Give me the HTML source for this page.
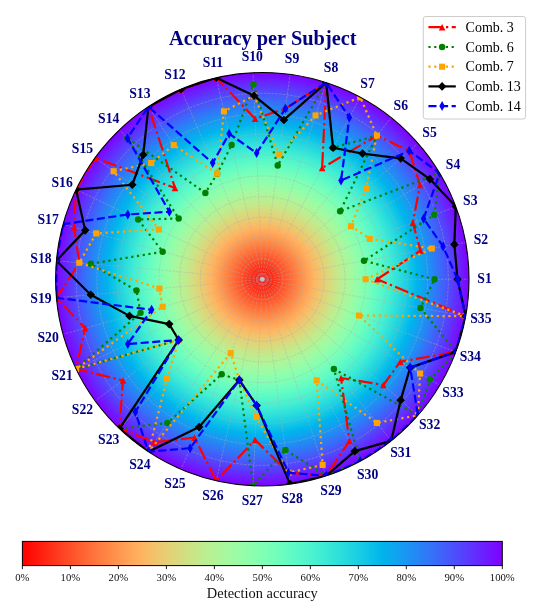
<!DOCTYPE html><html><head><meta charset="utf-8"><title>Accuracy per Subject</title>
<style>html,body{margin:0;padding:0;background:#fff}svg{display:block}text{font-family:"Liberation Serif","DejaVu Serif",serif}</style></head><body>
<svg width="550" height="605" viewBox="0 0 550 605">
<defs>
<radialGradient id="rg" gradientUnits="userSpaceOnUse" cx="262.3" cy="279.25" r="206.7"><stop offset="0.0000" stop-color="#ff0000"/><stop offset="0.0250" stop-color="#ff140a"/><stop offset="0.0500" stop-color="#ff2814"/><stop offset="0.0750" stop-color="#ff3c1e"/><stop offset="0.1000" stop-color="#ff4f28"/><stop offset="0.1250" stop-color="#ff6232"/><stop offset="0.1500" stop-color="#ff743c"/><stop offset="0.1750" stop-color="#ff8545"/><stop offset="0.2000" stop-color="#ff964f"/><stop offset="0.2250" stop-color="#ffa658"/><stop offset="0.2500" stop-color="#ffb462"/><stop offset="0.2750" stop-color="#f2c26b"/><stop offset="0.3000" stop-color="#e6ce74"/><stop offset="0.3250" stop-color="#d9d97d"/><stop offset="0.3500" stop-color="#cce385"/><stop offset="0.3750" stop-color="#bfec8e"/><stop offset="0.4000" stop-color="#b2f396"/><stop offset="0.4250" stop-color="#a6f89e"/><stop offset="0.4500" stop-color="#99fca6"/><stop offset="0.4750" stop-color="#8cfead"/><stop offset="0.5000" stop-color="#80ffb4"/><stop offset="0.5250" stop-color="#73febb"/><stop offset="0.5500" stop-color="#66fcc2"/><stop offset="0.5750" stop-color="#59f8c8"/><stop offset="0.6000" stop-color="#4df3ce"/><stop offset="0.6250" stop-color="#40ecd4"/><stop offset="0.6500" stop-color="#33e3d9"/><stop offset="0.6750" stop-color="#26d9de"/><stop offset="0.7000" stop-color="#1acee3"/><stop offset="0.7250" stop-color="#0dc2e8"/><stop offset="0.7500" stop-color="#00b4ec"/><stop offset="0.7750" stop-color="#0da6ef"/><stop offset="0.8000" stop-color="#1a96f3"/><stop offset="0.8250" stop-color="#2685f5"/><stop offset="0.8500" stop-color="#3374f8"/><stop offset="0.8750" stop-color="#4062fa"/><stop offset="0.9000" stop-color="#4d4ffc"/><stop offset="0.9250" stop-color="#593cfd"/><stop offset="0.9500" stop-color="#6628fe"/><stop offset="0.9750" stop-color="#7314ff"/><stop offset="1.0000" stop-color="#8000ff"/></radialGradient>
<linearGradient id="lg" x1="0" y1="0" x2="1" y2="0"><stop offset="0.0000" stop-color="#ff0000"/><stop offset="0.0250" stop-color="#ff140a"/><stop offset="0.0500" stop-color="#ff2814"/><stop offset="0.0750" stop-color="#ff3c1e"/><stop offset="0.1000" stop-color="#ff4f28"/><stop offset="0.1250" stop-color="#ff6232"/><stop offset="0.1500" stop-color="#ff743c"/><stop offset="0.1750" stop-color="#ff8545"/><stop offset="0.2000" stop-color="#ff964f"/><stop offset="0.2250" stop-color="#ffa658"/><stop offset="0.2500" stop-color="#ffb462"/><stop offset="0.2750" stop-color="#f2c26b"/><stop offset="0.3000" stop-color="#e6ce74"/><stop offset="0.3250" stop-color="#d9d97d"/><stop offset="0.3500" stop-color="#cce385"/><stop offset="0.3750" stop-color="#bfec8e"/><stop offset="0.4000" stop-color="#b2f396"/><stop offset="0.4250" stop-color="#a6f89e"/><stop offset="0.4500" stop-color="#99fca6"/><stop offset="0.4750" stop-color="#8cfead"/><stop offset="0.5000" stop-color="#80ffb4"/><stop offset="0.5250" stop-color="#73febb"/><stop offset="0.5500" stop-color="#66fcc2"/><stop offset="0.5750" stop-color="#59f8c8"/><stop offset="0.6000" stop-color="#4df3ce"/><stop offset="0.6250" stop-color="#40ecd4"/><stop offset="0.6500" stop-color="#33e3d9"/><stop offset="0.6750" stop-color="#26d9de"/><stop offset="0.7000" stop-color="#1acee3"/><stop offset="0.7250" stop-color="#0dc2e8"/><stop offset="0.7500" stop-color="#00b4ec"/><stop offset="0.7750" stop-color="#0da6ef"/><stop offset="0.8000" stop-color="#1a96f3"/><stop offset="0.8250" stop-color="#2685f5"/><stop offset="0.8500" stop-color="#3374f8"/><stop offset="0.8750" stop-color="#4062fa"/><stop offset="0.9000" stop-color="#4d4ffc"/><stop offset="0.9250" stop-color="#593cfd"/><stop offset="0.9500" stop-color="#6628fe"/><stop offset="0.9750" stop-color="#7314ff"/><stop offset="1.0000" stop-color="#8000ff"/></linearGradient>
<clipPath id="cp"><circle cx="262.3" cy="279.25" r="206.7"/></clipPath>
</defs>
<rect width="550" height="605" fill="#fff"/>
<circle cx="262.3" cy="279.25" r="206.7" fill="url(#rg)"/>
<g clip-path="url(#cp)" fill="none" stroke="#b0b0b0" stroke-opacity="0.6" stroke-width="0.7" stroke-dasharray="2.6 1.2"><line x1="262.3" y1="279.25" x2="469.00" y2="279.25"/><line x1="262.3" y1="279.25" x2="465.68" y2="242.34"/><line x1="262.3" y1="279.25" x2="455.82" y2="206.62"/><line x1="262.3" y1="279.25" x2="439.74" y2="173.23"/><line x1="262.3" y1="279.25" x2="417.96" y2="143.25"/><line x1="262.3" y1="279.25" x2="391.18" y2="117.65"/><line x1="262.3" y1="279.25" x2="360.25" y2="97.23"/><line x1="262.3" y1="279.25" x2="326.17" y2="82.67"/><line x1="262.3" y1="279.25" x2="290.05" y2="74.42"/><line x1="262.3" y1="279.25" x2="253.03" y2="72.76"/><line x1="262.3" y1="279.25" x2="216.30" y2="77.73"/><line x1="262.3" y1="279.25" x2="181.06" y2="89.18"/><line x1="262.3" y1="279.25" x2="148.43" y2="106.74"/><line x1="262.3" y1="279.25" x2="119.46" y2="129.85"/><line x1="262.3" y1="279.25" x2="95.08" y2="157.75"/><line x1="262.3" y1="279.25" x2="76.07" y2="189.57"/><line x1="262.3" y1="279.25" x2="63.05" y2="224.26"/><line x1="262.3" y1="279.25" x2="56.43" y2="260.72"/><line x1="262.3" y1="279.25" x2="56.43" y2="297.78"/><line x1="262.3" y1="279.25" x2="63.05" y2="334.24"/><line x1="262.3" y1="279.25" x2="76.07" y2="368.93"/><line x1="262.3" y1="279.25" x2="95.08" y2="400.75"/><line x1="262.3" y1="279.25" x2="119.46" y2="428.65"/><line x1="262.3" y1="279.25" x2="148.43" y2="451.76"/><line x1="262.3" y1="279.25" x2="181.06" y2="469.32"/><line x1="262.3" y1="279.25" x2="216.30" y2="480.77"/><line x1="262.3" y1="279.25" x2="253.03" y2="485.74"/><line x1="262.3" y1="279.25" x2="290.05" y2="484.08"/><line x1="262.3" y1="279.25" x2="326.17" y2="475.83"/><line x1="262.3" y1="279.25" x2="360.25" y2="461.27"/><line x1="262.3" y1="279.25" x2="391.18" y2="440.85"/><line x1="262.3" y1="279.25" x2="417.96" y2="415.25"/><line x1="262.3" y1="279.25" x2="439.74" y2="385.27"/><line x1="262.3" y1="279.25" x2="455.82" y2="351.88"/><line x1="262.3" y1="279.25" x2="465.68" y2="316.16"/><circle cx="262.3" cy="279.25" r="20.67"/><circle cx="262.3" cy="279.25" r="41.34"/><circle cx="262.3" cy="279.25" r="62.01"/><circle cx="262.3" cy="279.25" r="82.68"/><circle cx="262.3" cy="279.25" r="103.35"/><circle cx="262.3" cy="279.25" r="124.02"/><circle cx="262.3" cy="279.25" r="144.69"/><circle cx="262.3" cy="279.25" r="165.36"/><circle cx="262.3" cy="279.25" r="186.03"/><circle cx="262.3" cy="279.25" r="3"/><circle cx="262.3" cy="279.25" r="6.2"/></g>
<circle cx="262.3" cy="279.25" r="2.2" fill="#c2c2cc"/>
<g clip-path="url(#cp)">
<path d="M377.13 279.25L420.48 250.54L412.82 222.76L420.03 185.01L409.31 150.81L376.86 135.60L322.16 168.02L326.17 82.67L285.42 108.56L255.09 118.65L216.30 77.73L181.06 89.18L148.43 106.74L175.01 187.95L95.08 157.75L76.07 189.57L74.12 227.32L79.31 262.78L56.43 297.78L85.19 328.13L76.07 368.93L122.95 380.50L119.46 428.65L154.76 442.17L194.60 437.64L216.30 480.77L255.09 439.85L288.50 472.70L326.17 475.83L349.37 441.04L341.06 378.01L383.37 385.02L400.31 361.71L455.82 351.88L465.68 316.16Z" fill="none" stroke="#ff0000" stroke-width="2.2" stroke-linejoin="round" stroke-dasharray="14.1 3.5 2.2 3.5"/>
<path d="M377.13 275.95L380.43 282.55L373.83 282.55Z" fill="#ff0000"/><path d="M420.48 247.24L423.78 253.84L417.18 253.84Z" fill="#ff0000"/><path d="M412.82 219.46L416.12 226.06L409.52 226.06Z" fill="#ff0000"/><path d="M420.03 181.71L423.33 188.31L416.73 188.31Z" fill="#ff0000"/><path d="M409.31 147.51L412.61 154.11L406.01 154.11Z" fill="#ff0000"/><path d="M376.86 132.30L380.16 138.90L373.56 138.90Z" fill="#ff0000"/><path d="M322.16 164.72L325.46 171.32L318.86 171.32Z" fill="#ff0000"/><path d="M326.17 79.37L329.47 85.97L322.87 85.97Z" fill="#ff0000"/><path d="M285.42 105.26L288.72 111.86L282.12 111.86Z" fill="#ff0000"/><path d="M255.09 115.35L258.39 121.95L251.79 121.95Z" fill="#ff0000"/><path d="M216.30 74.43L219.60 81.03L213.00 81.03Z" fill="#ff0000"/><path d="M181.06 85.88L184.36 92.48L177.76 92.48Z" fill="#ff0000"/><path d="M148.43 103.44L151.73 110.04L145.13 110.04Z" fill="#ff0000"/><path d="M175.01 184.65L178.31 191.25L171.71 191.25Z" fill="#ff0000"/><path d="M95.08 154.45L98.38 161.05L91.78 161.05Z" fill="#ff0000"/><path d="M76.07 186.27L79.37 192.87L72.77 192.87Z" fill="#ff0000"/><path d="M74.12 224.02L77.42 230.62L70.82 230.62Z" fill="#ff0000"/><path d="M79.31 259.48L82.61 266.08L76.01 266.08Z" fill="#ff0000"/><path d="M56.43 294.48L59.73 301.08L53.13 301.08Z" fill="#ff0000"/><path d="M85.19 324.83L88.49 331.43L81.89 331.43Z" fill="#ff0000"/><path d="M76.07 365.63L79.37 372.23L72.77 372.23Z" fill="#ff0000"/><path d="M122.95 377.20L126.25 383.80L119.65 383.80Z" fill="#ff0000"/><path d="M119.46 425.35L122.76 431.95L116.16 431.95Z" fill="#ff0000"/><path d="M154.76 438.87L158.06 445.47L151.46 445.47Z" fill="#ff0000"/><path d="M194.60 434.34L197.90 440.94L191.30 440.94Z" fill="#ff0000"/><path d="M216.30 477.47L219.60 484.07L213.00 484.07Z" fill="#ff0000"/><path d="M255.09 436.55L258.39 443.15L251.79 443.15Z" fill="#ff0000"/><path d="M288.50 469.40L291.80 476.00L285.20 476.00Z" fill="#ff0000"/><path d="M326.17 472.53L329.47 479.13L322.87 479.13Z" fill="#ff0000"/><path d="M349.37 437.74L352.67 444.34L346.07 444.34Z" fill="#ff0000"/><path d="M341.06 374.71L344.36 381.31L337.76 381.31Z" fill="#ff0000"/><path d="M383.37 381.72L386.67 388.32L380.07 388.32Z" fill="#ff0000"/><path d="M400.31 358.41L403.61 365.01L397.01 365.01Z" fill="#ff0000"/><path d="M455.82 348.58L459.12 355.18L452.52 355.18Z" fill="#ff0000"/><path d="M465.68 312.86L468.98 319.46L462.38 319.46Z" fill="#ff0000"/>
<path d="M434.55 279.25L363.99 260.80L434.32 214.69L439.74 173.23L340.13 211.25L376.86 135.60L333.04 147.79L326.17 82.67L277.71 165.46L253.54 84.23L231.64 144.90L217.17 173.66L205.36 193.00L127.39 138.15L178.69 218.50L138.15 219.46L162.67 251.76L90.74 263.81L136.49 290.57L140.54 312.85L76.07 368.93L178.69 340.00L119.46 428.65L167.41 423.01L221.68 374.28L239.30 380.01L253.03 485.74L285.42 449.94L326.17 475.83L360.25 461.27L333.90 369.03L417.96 415.25L429.88 379.38L455.82 351.88L420.48 307.96Z" fill="none" stroke="#008000" stroke-width="2.2" stroke-linejoin="round" stroke-dasharray="2.2 3.6"/>
<circle cx="434.55" cy="279.25" r="3.2" fill="#008000"/><circle cx="363.99" cy="260.80" r="3.2" fill="#008000"/><circle cx="434.32" cy="214.69" r="3.2" fill="#008000"/><circle cx="439.74" cy="173.23" r="3.2" fill="#008000"/><circle cx="340.13" cy="211.25" r="3.2" fill="#008000"/><circle cx="376.86" cy="135.60" r="3.2" fill="#008000"/><circle cx="333.04" cy="147.79" r="3.2" fill="#008000"/><circle cx="326.17" cy="82.67" r="3.2" fill="#008000"/><circle cx="277.71" cy="165.46" r="3.2" fill="#008000"/><circle cx="253.54" cy="84.23" r="3.2" fill="#008000"/><circle cx="231.64" cy="144.90" r="3.2" fill="#008000"/><circle cx="217.17" cy="173.66" r="3.2" fill="#008000"/><circle cx="205.36" cy="193.00" r="3.2" fill="#008000"/><circle cx="127.39" cy="138.15" r="3.2" fill="#008000"/><circle cx="178.69" cy="218.50" r="3.2" fill="#008000"/><circle cx="138.15" cy="219.46" r="3.2" fill="#008000"/><circle cx="162.67" cy="251.76" r="3.2" fill="#008000"/><circle cx="90.74" cy="263.81" r="3.2" fill="#008000"/><circle cx="136.49" cy="290.57" r="3.2" fill="#008000"/><circle cx="140.54" cy="312.85" r="3.2" fill="#008000"/><circle cx="76.07" cy="368.93" r="3.2" fill="#008000"/><circle cx="178.69" cy="340.00" r="3.2" fill="#008000"/><circle cx="119.46" cy="428.65" r="3.2" fill="#008000"/><circle cx="167.41" cy="423.01" r="3.2" fill="#008000"/><circle cx="221.68" cy="374.28" r="3.2" fill="#008000"/><circle cx="239.30" cy="380.01" r="3.2" fill="#008000"/><circle cx="253.03" cy="485.74" r="3.2" fill="#008000"/><circle cx="285.42" cy="449.94" r="3.2" fill="#008000"/><circle cx="326.17" cy="475.83" r="3.2" fill="#008000"/><circle cx="360.25" cy="461.27" r="3.2" fill="#008000"/><circle cx="333.90" cy="369.03" r="3.2" fill="#008000"/><circle cx="417.96" cy="415.25" r="3.2" fill="#008000"/><circle cx="429.88" cy="379.38" r="3.2" fill="#008000"/><circle cx="455.82" cy="351.88" r="3.2" fill="#008000"/><circle cx="420.48" cy="307.96" r="3.2" fill="#008000"/>
<path d="M365.65 279.25L431.78 248.49L369.81 238.90L351.02 226.24L366.07 188.59L376.86 135.60L360.25 97.23L315.53 115.43L279.26 154.08L254.06 95.70L223.97 111.32L217.17 173.66L173.73 145.08L151.20 163.05L113.66 171.25L158.84 229.43L96.26 233.43L79.31 262.78L159.37 288.51L162.67 306.74L76.07 368.93L178.69 340.00L167.07 378.85L148.43 451.76L230.71 353.16L239.30 380.01L256.12 416.91L288.50 472.70L322.63 464.91L316.72 380.37L376.86 422.90L417.96 415.25L420.03 373.49L359.06 315.56L465.68 316.16Z" fill="none" stroke="#ffa500" stroke-width="2.2" stroke-linejoin="round" stroke-dasharray="2.2 3.6"/>
<rect x="362.60" y="276.20" width="6.1" height="6.1" fill="#ffa500"/><rect x="428.73" y="245.44" width="6.1" height="6.1" fill="#ffa500"/><rect x="366.76" y="235.85" width="6.1" height="6.1" fill="#ffa500"/><rect x="347.97" y="223.19" width="6.1" height="6.1" fill="#ffa500"/><rect x="363.02" y="185.54" width="6.1" height="6.1" fill="#ffa500"/><rect x="373.81" y="132.55" width="6.1" height="6.1" fill="#ffa500"/><rect x="357.20" y="94.18" width="6.1" height="6.1" fill="#ffa500"/><rect x="312.48" y="112.38" width="6.1" height="6.1" fill="#ffa500"/><rect x="276.21" y="151.03" width="6.1" height="6.1" fill="#ffa500"/><rect x="251.01" y="92.65" width="6.1" height="6.1" fill="#ffa500"/><rect x="220.92" y="108.27" width="6.1" height="6.1" fill="#ffa500"/><rect x="214.12" y="170.61" width="6.1" height="6.1" fill="#ffa500"/><rect x="170.68" y="142.03" width="6.1" height="6.1" fill="#ffa500"/><rect x="148.15" y="160.00" width="6.1" height="6.1" fill="#ffa500"/><rect x="110.61" y="168.20" width="6.1" height="6.1" fill="#ffa500"/><rect x="155.79" y="226.38" width="6.1" height="6.1" fill="#ffa500"/><rect x="93.21" y="230.38" width="6.1" height="6.1" fill="#ffa500"/><rect x="76.26" y="259.73" width="6.1" height="6.1" fill="#ffa500"/><rect x="156.32" y="285.46" width="6.1" height="6.1" fill="#ffa500"/><rect x="159.62" y="303.69" width="6.1" height="6.1" fill="#ffa500"/><rect x="73.02" y="365.88" width="6.1" height="6.1" fill="#ffa500"/><rect x="175.64" y="336.95" width="6.1" height="6.1" fill="#ffa500"/><rect x="164.02" y="375.80" width="6.1" height="6.1" fill="#ffa500"/><rect x="145.38" y="448.71" width="6.1" height="6.1" fill="#ffa500"/><rect x="227.66" y="350.11" width="6.1" height="6.1" fill="#ffa500"/><rect x="236.25" y="376.96" width="6.1" height="6.1" fill="#ffa500"/><rect x="253.07" y="413.86" width="6.1" height="6.1" fill="#ffa500"/><rect x="285.45" y="469.65" width="6.1" height="6.1" fill="#ffa500"/><rect x="319.58" y="461.86" width="6.1" height="6.1" fill="#ffa500"/><rect x="313.67" y="377.32" width="6.1" height="6.1" fill="#ffa500"/><rect x="373.81" y="419.85" width="6.1" height="6.1" fill="#ffa500"/><rect x="414.91" y="412.20" width="6.1" height="6.1" fill="#ffa500"/><rect x="416.98" y="370.44" width="6.1" height="6.1" fill="#ffa500"/><rect x="356.01" y="312.51" width="6.1" height="6.1" fill="#ffa500"/><rect x="462.63" y="313.11" width="6.1" height="6.1" fill="#ffa500"/>
<path d="M457.52 279.25L454.38 244.39L455.82 206.62L429.88 179.12L400.66 158.36L362.54 153.56L333.04 147.79L326.17 82.67L283.88 119.94L254.06 95.70L216.30 77.73L181.06 89.18L148.43 106.74L143.26 154.75L132.24 184.75L76.07 189.57L85.19 230.37L56.43 260.72L90.74 294.69L129.47 315.91L169.18 324.09L178.69 340.00L119.46 428.65L148.43 451.76L199.11 427.08L239.30 380.01L256.63 405.44L290.05 484.08L326.17 475.83L354.81 451.16L391.18 440.85L400.66 400.14L410.17 367.60L455.82 351.88L465.68 316.16Z" fill="none" stroke="#000000" stroke-width="2.2" stroke-linejoin="round"/>
<path d="M457.52 274.95L461.82 279.25L457.52 283.55L453.22 279.25Z" fill="#000000"/><path d="M454.38 240.09L458.68 244.39L454.38 248.69L450.08 244.39Z" fill="#000000"/><path d="M455.82 202.32L460.12 206.62L455.82 210.92L451.52 206.62Z" fill="#000000"/><path d="M429.88 174.82L434.18 179.12L429.88 183.42L425.58 179.12Z" fill="#000000"/><path d="M400.66 154.06L404.96 158.36L400.66 162.66L396.36 158.36Z" fill="#000000"/><path d="M362.54 149.26L366.84 153.56L362.54 157.86L358.24 153.56Z" fill="#000000"/><path d="M333.04 143.49L337.34 147.79L333.04 152.09L328.74 147.79Z" fill="#000000"/><path d="M326.17 78.37L330.47 82.67L326.17 86.97L321.87 82.67Z" fill="#000000"/><path d="M283.88 115.64L288.18 119.94L283.88 124.24L279.58 119.94Z" fill="#000000"/><path d="M254.06 91.40L258.36 95.70L254.06 100.00L249.76 95.70Z" fill="#000000"/><path d="M216.30 73.43L220.60 77.73L216.30 82.03L212.00 77.73Z" fill="#000000"/><path d="M181.06 84.88L185.36 89.18L181.06 93.48L176.76 89.18Z" fill="#000000"/><path d="M148.43 102.44L152.73 106.74L148.43 111.04L144.13 106.74Z" fill="#000000"/><path d="M143.26 150.45L147.56 154.75L143.26 159.05L138.96 154.75Z" fill="#000000"/><path d="M132.24 180.45L136.54 184.75L132.24 189.05L127.94 184.75Z" fill="#000000"/><path d="M76.07 185.27L80.37 189.57L76.07 193.87L71.77 189.57Z" fill="#000000"/><path d="M85.19 226.07L89.49 230.37L85.19 234.67L80.89 230.37Z" fill="#000000"/><path d="M56.43 256.42L60.73 260.72L56.43 265.02L52.13 260.72Z" fill="#000000"/><path d="M90.74 290.39L95.04 294.69L90.74 298.99L86.44 294.69Z" fill="#000000"/><path d="M129.47 311.61L133.77 315.91L129.47 320.21L125.17 315.91Z" fill="#000000"/><path d="M169.18 319.79L173.48 324.09L169.18 328.39L164.88 324.09Z" fill="#000000"/><path d="M178.69 335.70L182.99 340.00L178.69 344.30L174.39 340.00Z" fill="#000000"/><path d="M119.46 424.35L123.76 428.65L119.46 432.95L115.16 428.65Z" fill="#000000"/><path d="M148.43 447.46L152.73 451.76L148.43 456.06L144.13 451.76Z" fill="#000000"/><path d="M199.11 422.78L203.41 427.08L199.11 431.38L194.81 427.08Z" fill="#000000"/><path d="M239.30 375.71L243.60 380.01L239.30 384.31L235.00 380.01Z" fill="#000000"/><path d="M256.63 401.14L260.93 405.44L256.63 409.74L252.33 405.44Z" fill="#000000"/><path d="M290.05 479.78L294.35 484.08L290.05 488.38L285.75 484.08Z" fill="#000000"/><path d="M326.17 471.53L330.47 475.83L326.17 480.13L321.87 475.83Z" fill="#000000"/><path d="M354.81 446.86L359.11 451.16L354.81 455.46L350.51 451.16Z" fill="#000000"/><path d="M391.18 436.55L395.48 440.85L391.18 445.15L386.88 440.85Z" fill="#000000"/><path d="M400.66 395.84L404.96 400.14L400.66 404.44L396.36 400.14Z" fill="#000000"/><path d="M410.17 363.30L414.47 367.60L410.17 371.90L405.87 367.60Z" fill="#000000"/><path d="M455.82 347.58L460.12 351.88L455.82 356.18L451.52 351.88Z" fill="#000000"/><path d="M465.68 311.86L469.98 316.16L465.68 320.46L461.38 316.16Z" fill="#000000"/>
<path d="M457.52 279.25L443.08 246.44L423.57 218.73L439.74 173.23L409.31 150.81L341.06 180.49L349.37 117.46L326.17 82.67L285.42 108.56L256.63 153.06L229.08 133.71L212.65 163.10L148.43 106.74L127.39 138.15L169.40 211.75L127.80 214.48L63.05 224.26L56.43 260.72L56.43 297.78L151.60 309.80L127.80 344.02L178.69 340.00L135.33 412.05L148.43 451.76L190.09 448.20L239.30 380.01L256.63 405.44L288.50 472.70L326.17 475.83L360.25 461.27L391.18 440.85L417.96 415.25L410.17 367.60L455.82 351.88L465.68 316.16Z" fill="none" stroke="#0000ff" stroke-width="2.2" stroke-linejoin="round" stroke-dasharray="8.1 3.5"/>
<path d="M457.52 274.25L460.32 279.25L457.52 284.25L454.72 279.25Z" fill="#0000ff"/><path d="M443.08 241.44L445.88 246.44L443.08 251.44L440.28 246.44Z" fill="#0000ff"/><path d="M423.57 213.73L426.37 218.73L423.57 223.73L420.77 218.73Z" fill="#0000ff"/><path d="M439.74 168.23L442.54 173.23L439.74 178.23L436.94 173.23Z" fill="#0000ff"/><path d="M409.31 145.81L412.11 150.81L409.31 155.81L406.51 150.81Z" fill="#0000ff"/><path d="M341.06 175.49L343.86 180.49L341.06 185.49L338.26 180.49Z" fill="#0000ff"/><path d="M349.37 112.46L352.17 117.46L349.37 122.46L346.57 117.46Z" fill="#0000ff"/><path d="M326.17 77.67L328.97 82.67L326.17 87.67L323.37 82.67Z" fill="#0000ff"/><path d="M285.42 103.56L288.22 108.56L285.42 113.56L282.62 108.56Z" fill="#0000ff"/><path d="M256.63 148.06L259.43 153.06L256.63 158.06L253.83 153.06Z" fill="#0000ff"/><path d="M229.08 128.71L231.88 133.71L229.08 138.71L226.28 133.71Z" fill="#0000ff"/><path d="M212.65 158.10L215.45 163.10L212.65 168.10L209.85 163.10Z" fill="#0000ff"/><path d="M148.43 101.74L151.23 106.74L148.43 111.74L145.63 106.74Z" fill="#0000ff"/><path d="M127.39 133.15L130.19 138.15L127.39 143.15L124.59 138.15Z" fill="#0000ff"/><path d="M169.40 206.75L172.20 211.75L169.40 216.75L166.60 211.75Z" fill="#0000ff"/><path d="M127.80 209.48L130.60 214.48L127.80 219.48L125.00 214.48Z" fill="#0000ff"/><path d="M63.05 219.26L65.85 224.26L63.05 229.26L60.25 224.26Z" fill="#0000ff"/><path d="M56.43 255.72L59.23 260.72L56.43 265.72L53.63 260.72Z" fill="#0000ff"/><path d="M56.43 292.78L59.23 297.78L56.43 302.78L53.63 297.78Z" fill="#0000ff"/><path d="M151.60 304.80L154.40 309.80L151.60 314.80L148.80 309.80Z" fill="#0000ff"/><path d="M127.80 339.02L130.60 344.02L127.80 349.02L125.00 344.02Z" fill="#0000ff"/><path d="M178.69 335.00L181.49 340.00L178.69 345.00L175.89 340.00Z" fill="#0000ff"/><path d="M135.33 407.05L138.13 412.05L135.33 417.05L132.53 412.05Z" fill="#0000ff"/><path d="M148.43 446.76L151.23 451.76L148.43 456.76L145.63 451.76Z" fill="#0000ff"/><path d="M190.09 443.20L192.89 448.20L190.09 453.20L187.29 448.20Z" fill="#0000ff"/><path d="M239.30 375.01L242.10 380.01L239.30 385.01L236.50 380.01Z" fill="#0000ff"/><path d="M256.63 400.44L259.43 405.44L256.63 410.44L253.83 405.44Z" fill="#0000ff"/><path d="M288.50 467.70L291.30 472.70L288.50 477.70L285.70 472.70Z" fill="#0000ff"/><path d="M326.17 470.83L328.97 475.83L326.17 480.83L323.37 475.83Z" fill="#0000ff"/><path d="M360.25 456.27L363.05 461.27L360.25 466.27L357.45 461.27Z" fill="#0000ff"/><path d="M391.18 435.85L393.98 440.85L391.18 445.85L388.38 440.85Z" fill="#0000ff"/><path d="M417.96 410.25L420.76 415.25L417.96 420.25L415.16 415.25Z" fill="#0000ff"/><path d="M410.17 362.60L412.97 367.60L410.17 372.60L407.37 367.60Z" fill="#0000ff"/><path d="M455.82 346.88L458.62 351.88L455.82 356.88L453.02 351.88Z" fill="#0000ff"/><path d="M465.68 311.16L468.48 316.16L465.68 321.16L462.88 316.16Z" fill="#0000ff"/>
</g>
<circle cx="262.3" cy="279.25" r="206.7" fill="none" stroke="#000" stroke-width="1.1"/>
<g font-size="13.7" font-weight="bold" fill="#000080" text-anchor="middle"><text x="484.5" y="283.2">S1</text><text x="480.9" y="243.6">S2</text><text x="470.3" y="205.2">S3</text><text x="453.0" y="169.3">S4</text><text x="429.6" y="137.1">S5</text><text x="400.8" y="109.5">S6</text><text x="367.6" y="87.6">S7</text><text x="331.0" y="71.9">S8</text><text x="292.1" y="63.1">S9</text><text x="252.3" y="61.3">S10</text><text x="212.9" y="66.6">S11</text><text x="175.0" y="78.9">S12</text><text x="139.9" y="97.8">S13</text><text x="108.7" y="122.6">S14</text><text x="82.5" y="152.6">S15</text><text x="62.1" y="186.8">S16</text><text x="48.1" y="224.1">S17</text><text x="41.0" y="263.3">S18</text><text x="41.0" y="303.2">S19</text><text x="48.1" y="342.4">S20</text><text x="62.1" y="379.7">S21</text><text x="82.5" y="413.9">S22</text><text x="108.7" y="443.9">S23</text><text x="139.9" y="468.7">S24</text><text x="175.0" y="487.6">S25</text><text x="212.9" y="499.9">S26</text><text x="252.3" y="505.2">S27</text><text x="292.1" y="503.4">S28</text><text x="331.0" y="494.6">S29</text><text x="367.6" y="478.9">S30</text><text x="400.8" y="457.0">S31</text><text x="429.6" y="429.4">S32</text><text x="453.0" y="397.2">S33</text><text x="470.3" y="361.3">S34</text><text x="480.9" y="322.9">S35</text></g>
<text x="262.8" y="45.2" font-size="20.5" font-weight="bold" fill="#000080" text-anchor="middle" textLength="187.5" lengthAdjust="spacingAndGlyphs">Accuracy per Subject</text>
<rect x="423.3" y="16.5" width="102.3" height="102.5" rx="2.5" fill="#fff" fill-opacity="0.8" stroke="#cccccc" stroke-width="1"/>
<path d="M428.4 27.2L455.8 27.2" stroke="#ff0000" stroke-width="2.2" fill="none" stroke-dasharray="14.1 3.5 2.2 3.5"/>
<path d="M442.10 23.90L445.40 30.50L438.80 30.50Z" fill="#ff0000"/>
<text x="465.6" y="31.7" font-size="14" fill="#000">Comb. 3</text>
<path d="M428.4 47.0L455.8 47.0" stroke="#008000" stroke-width="2.2" fill="none" stroke-dasharray="2.2 3.6"/>
<circle cx="442.10" cy="47.00" r="3.2" fill="#008000"/>
<text x="465.6" y="51.5" font-size="14" fill="#000">Comb. 6</text>
<path d="M428.4 66.7L455.8 66.7" stroke="#ffa500" stroke-width="2.2" fill="none" stroke-dasharray="2.2 3.6"/>
<rect x="439.05" y="63.65" width="6.1" height="6.1" fill="#ffa500"/>
<text x="465.6" y="71.2" font-size="14" fill="#000">Comb. 7</text>
<path d="M428.4 86.4L455.8 86.4" stroke="#000000" stroke-width="2.2" fill="none"/>
<path d="M442.10 82.10L446.40 86.40L442.10 90.70L437.80 86.40Z" fill="#000000"/>
<text x="465.6" y="90.9" font-size="14" fill="#000">Comb. 13</text>
<path d="M428.4 106.1L455.8 106.1" stroke="#0000ff" stroke-width="2.2" fill="none" stroke-dasharray="8.1 3.5"/>
<path d="M442.10 101.10L444.90 106.10L442.10 111.10L439.30 106.10Z" fill="#0000ff"/>
<text x="465.6" y="110.6" font-size="14" fill="#000">Comb. 14</text>
<rect x="22.4" y="541.4" width="479.9" height="24.2" fill="url(#lg)" stroke="#000" stroke-width="1"/>
<line x1="22.40" y1="565.6" x2="22.40" y2="569.2" stroke="#000" stroke-width="0.9"/><text x="22.40" y="581" font-size="10.7" fill="#111" text-anchor="middle">0%</text><line x1="70.39" y1="565.6" x2="70.39" y2="569.2" stroke="#000" stroke-width="0.9"/><text x="70.39" y="581" font-size="10.7" fill="#111" text-anchor="middle">10%</text><line x1="118.38" y1="565.6" x2="118.38" y2="569.2" stroke="#000" stroke-width="0.9"/><text x="118.38" y="581" font-size="10.7" fill="#111" text-anchor="middle">20%</text><line x1="166.37" y1="565.6" x2="166.37" y2="569.2" stroke="#000" stroke-width="0.9"/><text x="166.37" y="581" font-size="10.7" fill="#111" text-anchor="middle">30%</text><line x1="214.36" y1="565.6" x2="214.36" y2="569.2" stroke="#000" stroke-width="0.9"/><text x="214.36" y="581" font-size="10.7" fill="#111" text-anchor="middle">40%</text><line x1="262.35" y1="565.6" x2="262.35" y2="569.2" stroke="#000" stroke-width="0.9"/><text x="262.35" y="581" font-size="10.7" fill="#111" text-anchor="middle">50%</text><line x1="310.34" y1="565.6" x2="310.34" y2="569.2" stroke="#000" stroke-width="0.9"/><text x="310.34" y="581" font-size="10.7" fill="#111" text-anchor="middle">60%</text><line x1="358.33" y1="565.6" x2="358.33" y2="569.2" stroke="#000" stroke-width="0.9"/><text x="358.33" y="581" font-size="10.7" fill="#111" text-anchor="middle">70%</text><line x1="406.32" y1="565.6" x2="406.32" y2="569.2" stroke="#000" stroke-width="0.9"/><text x="406.32" y="581" font-size="10.7" fill="#111" text-anchor="middle">80%</text><line x1="454.31" y1="565.6" x2="454.31" y2="569.2" stroke="#000" stroke-width="0.9"/><text x="454.31" y="581" font-size="10.7" fill="#111" text-anchor="middle">90%</text><line x1="502.30" y1="565.6" x2="502.30" y2="569.2" stroke="#000" stroke-width="0.9"/><text x="502.30" y="581" font-size="10.7" fill="#111" text-anchor="middle">100%</text>
<text x="262.3" y="597.6" font-size="13.6" fill="#111" text-anchor="middle" textLength="111" lengthAdjust="spacingAndGlyphs">Detection accuracy</text>
</svg></body></html>
